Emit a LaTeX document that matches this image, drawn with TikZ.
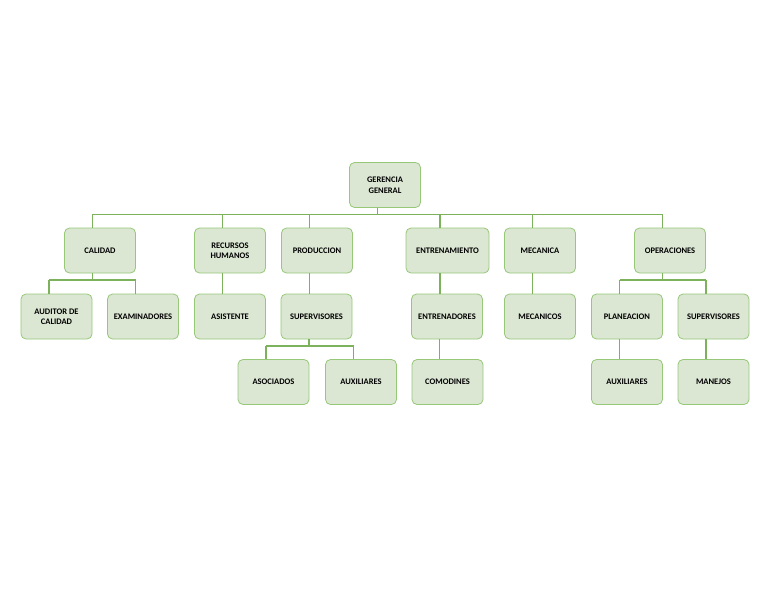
\documentclass[tikz,border=0pt]{standalone}
\usepackage{fontspec}
\setmainfont{Carlito}
\usepackage{tikz}
\definecolor{cajaverde}{RGB}{219,230,211}
\definecolor{bordeverde}{RGB}{150,200,120}
\definecolor{lineaverde}{RGB}{125,178,92}
\tikzset{caja/.style={draw=bordeverde, fill=cajaverde, line width=0.8pt,
   rounded corners=5pt, minimum width=71pt, minimum height=45pt,
   align=center, inner sep=2pt,
   font=\fontsize{8.5}{10.5}\selectfont\bfseries},
 enlace/.style={draw=lineaverde, line width=1.2pt},
 }

\begin{document}
\begin{tikzpicture}[x=1pt,y=-1pt]
    \useasboundingbox (0,0) rectangle (768,594);

    \node[caja] (ger) at (385,185) {GERENCIA\\GENERAL};

    \node[caja] (cal)  at (100,250.5) {CALIDAD};
    \node[caja] (rrhh) at (230,250.5) {RECURSOS\\HUMANOS};
    \node[caja] (prod) at (317,250.5) {PRODUCCION};
    \node[caja, minimum width=83pt] (entr) at (447.5,250.5) {ENTRENAMIENTO};
    \node[caja] (mec)  at (540,250.5) {MECANICA};
    \node[caja] (oper) at (670,250.5) {OPERACIONES};

    \node[caja] (aud)   at (56.5,316.5) {AUDITOR DE\\CALIDAD};
    \node[caja] (exam)  at (143,316.5) {EXAMINADORES};
    \node[caja] (asis)  at (230,316.5) {ASISTENTE};
    \node[caja] (sup)   at (316.5,316.5) {SUPERVISORES};
    \node[caja] (entrd) at (447,316.5) {ENTRENADORES};
    \node[caja] (mecs)  at (540,316.5) {MECANICOS};
    \node[caja] (plan)  at (627,316.5) {PLANEACION};
    \node[caja] (sup2)  at (713.5,316.5) {SUPERVISORES};

    \node[caja] (asoc)  at (273.5,382) {ASOCIADOS};
    \node[caja] (aux)   at (361,382) {AUXILIARES};
    \node[caja] (comod) at (447.5,382) {COMODINES};
    \node[caja] (aux2)  at (627,382) {AUXILIARES};
    \node[caja] (manej) at (713.5,382) {MANEJOS};

    \draw[enlace] ([xshift=-7.5]ger.south) -- ++(0,6.5) coordinate (b0);
    \draw[enlace] ([xshift=-7.5]cal.north |- b0) -- ([xshift=-7.5]oper.north |- b0);
    \foreach \n in {cal,rrhh,prod,entr,mec,oper} {
        \draw[enlace] ([xshift=-7.5]\n.north |- b0) -- ([xshift=-7.5]\n.north);
    }

    \foreach \p/\a/\b/\y in {cal/aud/exam/280, sup/asoc/aux/346, oper/plan/sup2/280} {
        \draw[enlace] ([xshift=-7.5]\p.south) -- ([xshift=-7.5]\p.south |- 0,\y);
        \draw[enlace] ([xshift=-7.5]\a.north |- 0,\y) -- ([xshift=-7.5]\b.north |- 0,\y);
        \draw[enlace] ([xshift=-7.5]\a.north |- 0,\y) -- ([xshift=-7.5]\a.north);
        \draw[enlace] ([xshift=-7.5]\b.north |- 0,\y) -- ([xshift=-7.5]\b.north);
    }

    \foreach \a/\b in {rrhh/asis, prod/sup, entr/entrd, entrd/comod, mec/mecs, plan/aux2, sup2/manej} {
        \draw[enlace] ([xshift=-7.5]\a.south) -- ([xshift=-7.5]\a.south |- \b.north);
    }
\end{tikzpicture}
\end{document}
